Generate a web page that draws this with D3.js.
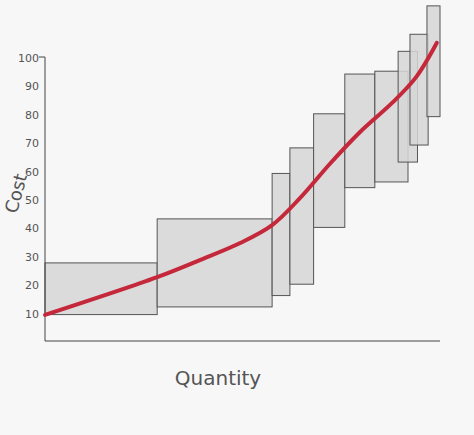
<!DOCTYPE html>
<html>
<head>
<meta charset="utf-8">
<script src="https://cdn.jsdelivr.net/npm/d3@7"></script>
<style>
  body { margin: 0; background: #f7f7f7; }
  svg { display: block; }
</style>
</head>
<body>
<div id="chart"></div>
<script>
// boxes: quantity range and cost range
const boxQ0 = [0, 28.4, 57.5, 62, 68, 75.9, 83.5, 89.4, 92.4, 96.7];
const boxQ1 = [28.4, 57.5, 62, 68, 75.9, 83.5, 91.9, 94.3, 97, 100];
const boxLo = [9.3, 12, 16, 20, 40, 54, 56, 63, 69, 79];
const boxHi = [27.5, 43, 59, 68, 80, 94, 95, 102, 108, 118];

// fitted curve
const curveQ = [0, 28.4, 39.2, 49.4, 57.5, 64.6, 72.2, 79.7, 88, 94, 99.2];
const curveC = [9.2, 22.5, 28.5, 34.5, 40.8, 50.4, 62.5, 73.5, 84, 93, 105];

const yTicks = [10, 20, 30, 40, 50, 60, 70, 80, 90, 100];

const width = 474, height = 435;
const svg = d3.select('#chart').append('svg')
    .attr('width', width)
    .attr('height', height);

const x = d3.scaleLinear().domain([0, 100]).range([45, 440]);
const y = d3.scaleLinear().domain([0, 100]).range([341, 57]);

// boxes
svg.selectAll('rect.box')
    .data(boxQ0)
    .enter()
    .append('rect')
    .attr('class', 'box')
    .attr('x', (d, i) => x(d))
    .attr('width', (d, i) => x(boxQ1[i]) - x(d))
    .attr('y', (d, i) => y(boxHi[i]))
    .attr('height', (d, i) => y(boxLo[i]) - y(boxHi[i]))
    .attr('fill', '#d6d6d6')
    .attr('fill-opacity', 0.85)
    .attr('stroke', '#555')
    .attr('stroke-width', 1);

// axes
svg.append('line')
    .attr('x1', x(0)).attr('x2', x(0))
    .attr('y1', y(100)).attr('y2', y(0))
    .attr('stroke', '#444');
svg.append('line')
    .attr('x1', x(0)).attr('x2', x(100))
    .attr('y1', y(0)).attr('y2', y(0))
    .attr('stroke', '#444');

svg.selectAll('text.tick')
    .data(yTicks)
    .enter()
    .append('text')
    .attr('class', 'tick')
    .attr('x', 39)
    .attr('y', d => y(d) + 5)
    .attr('text-anchor', 'end')
    .attr('font-family', 'DejaVu Sans')
    .attr('font-size', 11)
    .attr('fill', '#555')
    .text(d => d);

svg.append('line')
    .attr('x1', 39).attr('x2', x(0))
    .attr('y1', y(100)).attr('y2', y(100))
    .attr('stroke', '#444');

// curve
const line = d3.line()
    .x((d, i) => x(d))
    .y((d, i) => y(curveC[i]))
    .curve(d3.curveCatmullRom);

svg.append('path')
    .datum(curveQ)
    .attr('d', line)
    .attr('fill', 'none')
    .attr('stroke', '#c4283a')
    .attr('stroke-width', 4)
    .attr('stroke-linecap', 'round');

// labels
svg.append('text')
    .attr('transform', 'translate(22,195) rotate(-75)')
    .attr('text-anchor', 'middle')
    .attr('font-family', 'DejaVu Sans')
    .attr('font-size', 18)
    .attr('fill', '#555')
    .text('Cost');

svg.append('text')
    .attr('x', 218)
    .attr('y', 385)
    .attr('text-anchor', 'middle')
    .attr('font-family', 'DejaVu Sans')
    .attr('font-size', 20)
    .attr('fill', '#555')
    .text('Quantity');
</script>
</body>
</html>
